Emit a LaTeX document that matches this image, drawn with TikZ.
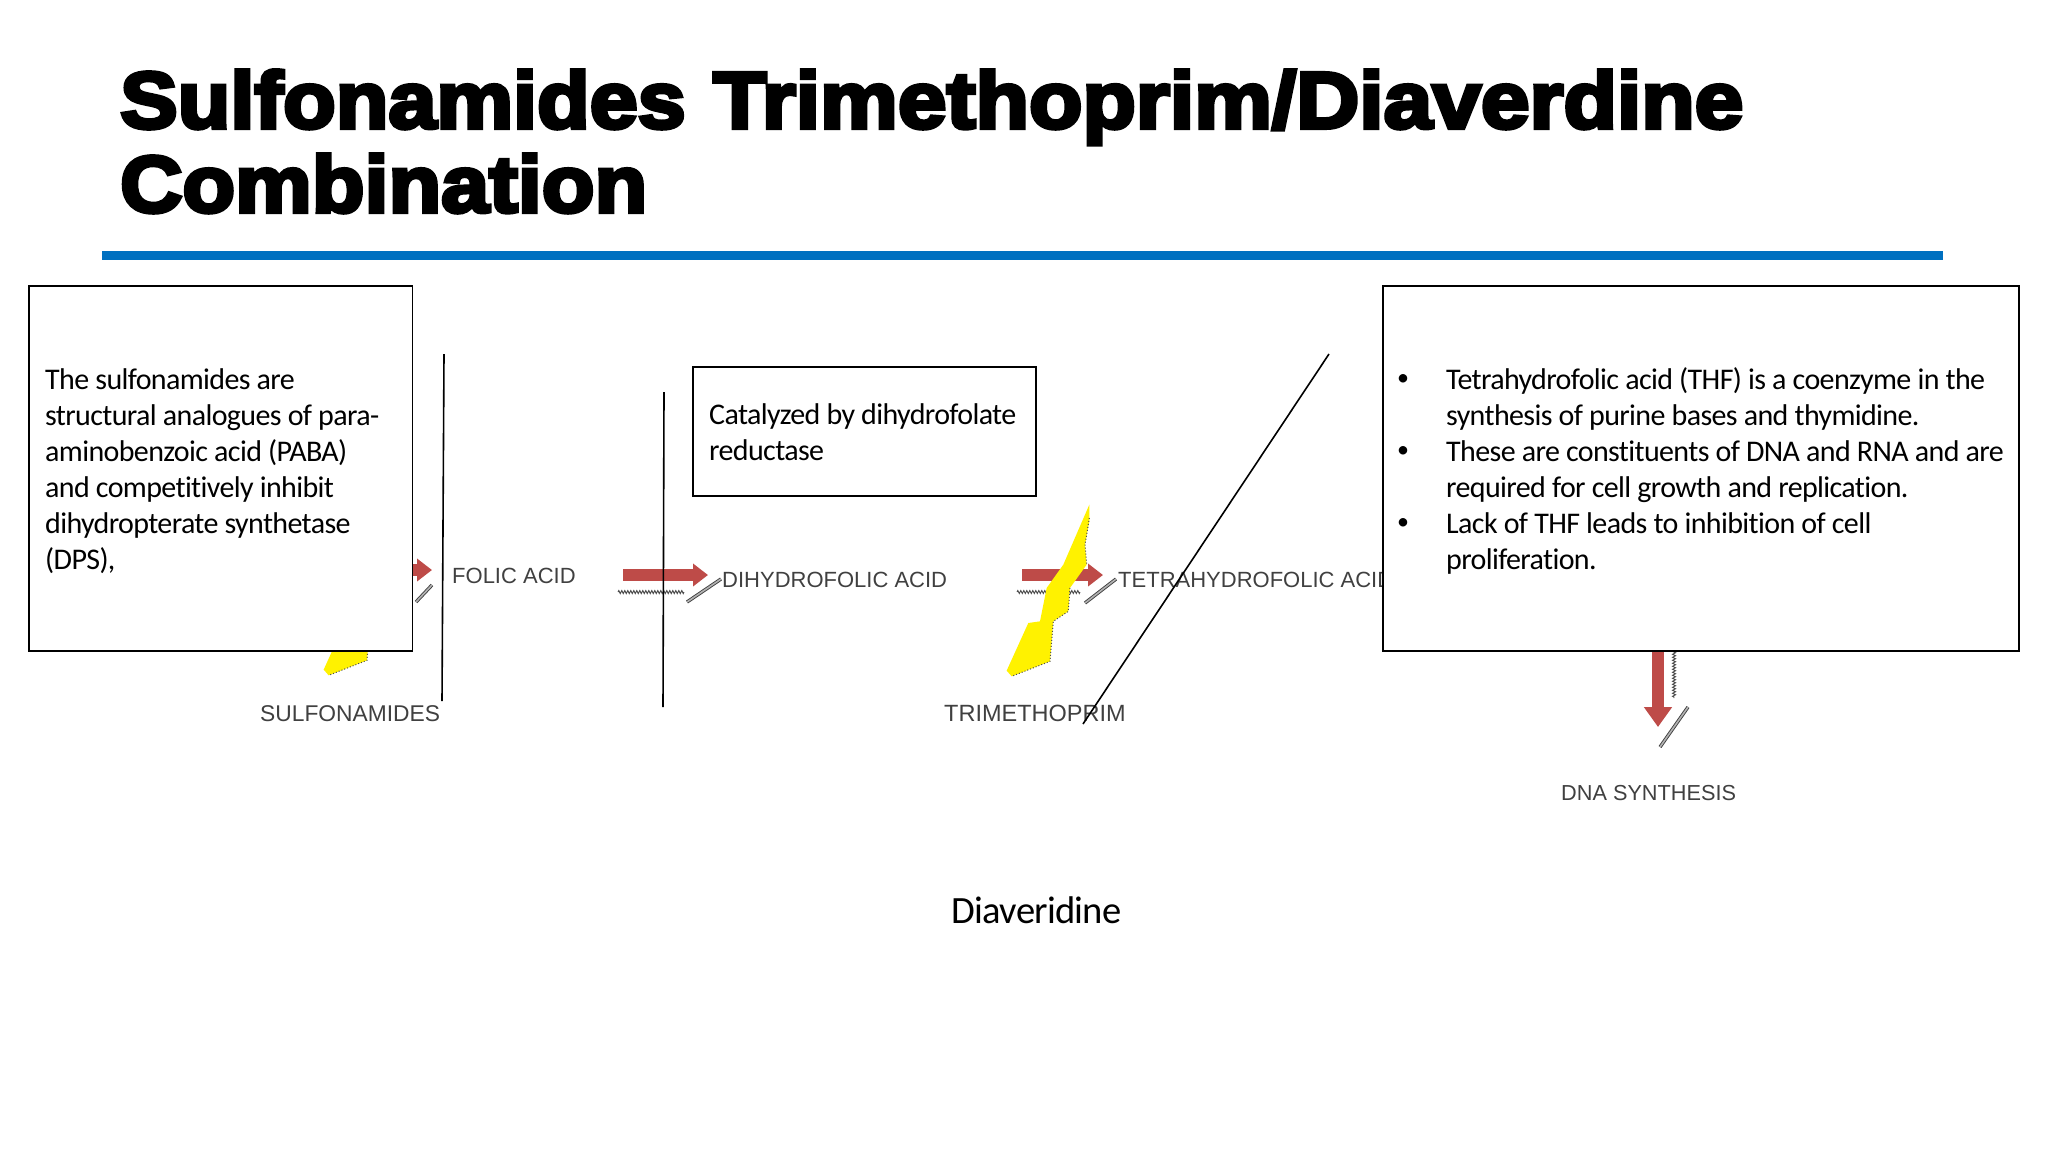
\documentclass[tikz,border=0pt]{standalone}
\usepackage{fontspec}
\usetikzlibrary{arrows.meta,decorations.pathmorphing}
\setmainfont{Carlito}[LetterSpace=-2.1,Ligatures=NoCommon]
\newfontfamily\titlefont[BoldFeatures={FakeBold=5,FakeStretch=1.078},WordSpace=1.15]{Liberation Sans}
\newfontfamily\titlewide[BoldFeatures={FakeBold=5,FakeStretch=1.093}]{Liberation Sans}
\newfontfamily\labelfont{Liberation Sans}
\definecolor{barblue}{HTML}{0070C0}
\definecolor{arrowred}{HTML}{BE4B48}
\definecolor{boltyellow}{HTML}{FFF200}
\definecolor{labelgray}{HTML}{404040}
\tikzset{
  x=1pt,y=-1pt,
  titletext/.style={anchor=base west,inner sep=0,font=\titlefont\bfseries\fontsize{80}{84}\selectfont,align=left},
  textbox/.style={draw=black,line width=1.8pt,fill=white,inner sep=0,anchor=north west},
  bodytext/.style={anchor=north west,inner sep=0,align=left,font=\fontsize{30}{36}\selectfont},
  bulletmark/.style={anchor=center,inner sep=0,font=\fontsize{24}{36}\selectfont},
  pathlabel/.style={anchor=base west,inner sep=0,text=labelgray,font=\labelfont\fontsize{22}{24}\selectfont},
  redarrow/.style={draw=arrowred,line width=12pt,-{Triangle[length=15pt,width=22pt]}},
  wavyline/.style={draw=black!70,line width=.9pt,decorate,decoration={zigzag,segment length=3pt,amplitude=1.5pt}},
  slashline/.style={draw=black!75,line width=.9pt,double=white!70!black,double distance=1.6pt},
  bolt/.style={fill=boltyellow,draw=none},
  boltedge/.style={draw=black!70,line width=1pt,dotted},
  overline/.style={draw=black,line width=1.6pt},
}
\newcommand{\boltshape}[2]{%
  \begin{scope}[shift={(#1,#2)},x=.3333pt,y=-.3333pt]
    \fill[bolt] (418,80) -- (418,130) -- (405,200) -- (410,260) -- (360,330) -- (355,400) -- (310,430) -- (300,550) -- (185,595) -- (170,578) -- (235,435) -- (270,430) -- (290,330) -- (340,260) -- cycle;
    \draw[boltedge] (418,120) -- (405,200) -- (410,260);
    \draw[boltedge] (360,330) -- (355,400) -- (310,430) -- (300,550) -- (185,595);
  \end{scope}}
\begin{document}
\begin{tikzpicture}
\useasboundingbox (0,0) rectangle (2048,1152);
\fill[white] (0,0) rectangle (2048,1152);

\node[titletext] (title) at (120,212) {Sulfonamides {\titlewide\bfseries Trimethoprim/Diaverdine}\\[0pt]Combination};
\fill[barblue] (102,251) rectangle (1943,260);

% pathway labels
\node[pathlabel] (folic) at (452,583.5) {FOLIC ACID};
\node[pathlabel] (dihydro) at (722,587.5) {DIHYDROFOLIC ACID};
\node[pathlabel] (tetra) at (1118,587.5) {TETRAHYDROFOLIC ACID};
\node[pathlabel,font=\labelfont\fontsize{22.8}{24}\selectfont] (sulfa) at (260,721.5) {SULFONAMIDES};
\node[pathlabel,font=\labelfont\fontsize{23.5}{24}\selectfont] (trim) at (944,721.5) {TRIMETHOPRIM};
\node[pathlabel,font=\labelfont\fontsize{21.7}{24}\selectfont] (dna) at (1561,800) {DNA SYNTHESIS};

% reaction arrows
\coordinate (a1s) at (380,570); \coordinate (a1e) at (432,570);
\coordinate (a2s) at (623,575); \coordinate (a2e) at (708,575);
\coordinate (a3s) at (1022,575); \coordinate (a3e) at (1103,575);
\coordinate (a4s) at (1658,640); \coordinate (a4e) at (1658,727);
\draw[redarrow] (a1s) -- (a1e);
\draw[redarrow] (a2s) -- (a2e);
\draw[redarrow] (a3s) -- (a3e);
\draw[redarrow,-{Triangle[length=20pt,width=27pt]}] (a4s) -- (a4e);

\coordinate (w2s) at (618,592); \coordinate (w2e) at (684,592);
\coordinate (w3s) at (1017,592); \coordinate (w3e) at (1080,592);
\coordinate (w4s) at (1674,640); \coordinate (w4e) at (1674,698);
\draw[wavyline] (w2s) -- (w2e);
\draw[wavyline] (w3s) -- (w3e);
\draw[wavyline] (w4s) -- (w4e);

\coordinate (s1s) at (416,602); \coordinate (s1e) at (432,585);
\coordinate (s2s) at (687,602); \coordinate (s2e) at (721,579);
\coordinate (s3s) at (1085,603); \coordinate (s3e) at (1116,579);
\coordinate (s4s) at (1660,747); \coordinate (s4e) at (1688,707);
\draw[slashline] (s1s) -- (s1e);
\draw[slashline] (s2s) -- (s2e);
\draw[slashline] (s3s) -- (s3e);
\draw[slashline] (s4s) -- (s4e);

% inhibition bolts
\boltshape{267}{477}
\boltshape{950}{478}

% text boxes
\draw[textbox] (29,286) rectangle (412.5,651);
\draw[textbox] (693,367) rectangle (1036,496);
\draw[textbox] (1383,286) rectangle (2019,651);

\node[bodytext] (leftnote) at (45,368) {The sulfonamides are\\structural analogues of para-\\aminobenzoic acid (PABA)\\and competitively inhibit\\dihydropterate synthetase\\(DPS),};
\node[bodytext] (midnote) at (709,403) {Catalyzed by dihydrofolate\\reductase};
\node[bulletmark] (b1) at (1403,380) {•};
\node[bulletmark] (b2) at (1403,452) {•};
\node[bulletmark] (b3) at (1403,524) {•};
\node[bodytext] (r1) at (1446,367) {Tetrahydrofolic acid (THF) is a coenzyme in the\\synthesis of purine bases and thymidine.};
\node[bodytext] (r2) at (1446,440) {These are constituents of DNA and RNA and are\\required for cell growth and replication.};
\node[bodytext] (r3) at (1446,512) {Lack of THF leads to inhibition of cell\\proliferation.};

\node[anchor=center,inner sep=0,font=\fontsize{38.6}{40}\selectfont] (diav) at (1036.5,910) {Diaveridine};

% free lines over the slide
\coordinate (l1a) at (444,354); \coordinate (l1b) at (442,701);
\coordinate (l2a) at (664,392); \coordinate (l2b) at (663,707);
\coordinate (l3a) at (1329,354); \coordinate (l3b) at (1083,724);
\draw[overline] (l1a) -- (l1b);
\draw[overline] (l2a) -- (l2b);
\draw[overline] (l3a) -- (l3b);
\end{tikzpicture}
\end{document}
